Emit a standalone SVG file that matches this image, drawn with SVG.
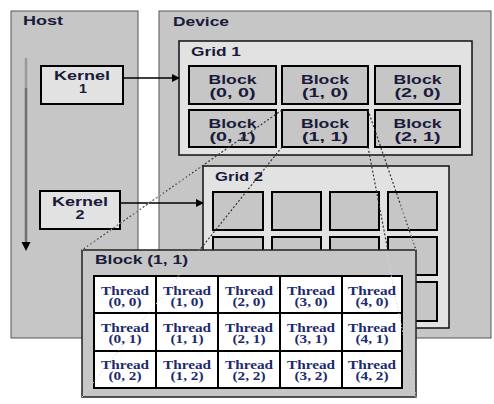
<svg xmlns="http://www.w3.org/2000/svg" width="494" height="404" viewBox="0 0 494 404">
<defs>
<marker id="ah" markerWidth="8" markerHeight="8" refX="7" refY="4" orient="auto" markerUnits="userSpaceOnUse">
<path d="M0,0 L8,4 L0,8 Z" fill="#000"/>
</marker>
<style>
.panel{fill:#c6c6c6;stroke:#555;stroke-width:1}
.grid{fill:#e2e2e2;stroke:#111;stroke-width:1.5}
.blk{fill:#c6c6c6;stroke:#000;stroke-width:2}
.kern{fill:#e2e2e2;stroke:#000;stroke-width:2}
.cell{fill:#c6c6c6;stroke:#000;stroke-width:2}
.t{font-family:"Liberation Sans",Arial,sans-serif;font-weight:bold;fill:#1a1a3a;font-size:12px}
.tc{text-anchor:middle}
.th{font-family:"Liberation Serif","Times New Roman",serif;font-weight:bold;fill:#1c2a6e;font-size:11.5px;text-anchor:middle}
.dash{stroke:#333;stroke-width:1.2;stroke-dasharray:2,2;fill:none}
.faint{stroke:#d8d8d8;stroke-width:1;stroke-dasharray:1.5,2;fill:none}
.arr{stroke:#000;stroke-width:1.5;fill:none}
.tl{stroke:#000;stroke-width:2}
</style>
</defs>
<rect width="494" height="404" fill="#fff"/>

<g id="host">
<rect class="panel" x="11" y="11" width="127" height="327"/>
<text class="t" x="23" y="25" textLength="40" lengthAdjust="spacingAndGlyphs">Host</text>
<line x1="26" y1="58" x2="26" y2="88" stroke="#9a9a9a" stroke-width="2.5"/>
<line x1="26" y1="88" x2="26" y2="243" stroke="#6e6e6e" stroke-width="2.5"/>
<path d="M21.5,242 L30.5,242 L26,251 Z" fill="#000"/>
</g>

<g id="device">
<rect class="panel" x="159" y="11" width="332" height="327"/>
<text class="t" x="173" y="26" textLength="56" lengthAdjust="spacingAndGlyphs">Device</text>
</g>

<g id="kernel1">
<rect class="kern" x="41" y="66" width="82" height="38"/>
<text class="t tc" x="82" y="80" textLength="56" lengthAdjust="spacingAndGlyphs">Kernel</text>
<text class="t tc" x="83" y="93" textLength="8" lengthAdjust="spacingAndGlyphs">1</text>
</g>

<g id="kernel2">
<rect class="kern" x="40" y="191" width="80" height="38"/>
<text class="t tc" x="80" y="206" textLength="56" lengthAdjust="spacingAndGlyphs">Kernel</text>
<text class="t tc" x="80" y="219" textLength="9" lengthAdjust="spacingAndGlyphs">2</text>
</g>

<g id="grid1">
<rect class="grid" x="179" y="41" width="293" height="114"/>
<text class="t" x="191" y="56" textLength="50" lengthAdjust="spacingAndGlyphs">Grid 1</text>
</g>
<g id="block00"><rect class="blk" x="189" y="66" width="87" height="38"/>
<text class="t tc" x="232.5" y="84" textLength="48" lengthAdjust="spacingAndGlyphs">Block</text>
<text class="t tc" x="232.5" y="97" textLength="46" lengthAdjust="spacingAndGlyphs">(0, 0)</text></g>
<g id="block10"><rect class="blk" x="282" y="66" width="86" height="38"/>
<text class="t tc" x="325" y="84" textLength="48" lengthAdjust="spacingAndGlyphs">Block</text>
<text class="t tc" x="325" y="97" textLength="46" lengthAdjust="spacingAndGlyphs">(1, 0)</text></g>
<g id="block20"><rect class="blk" x="375" y="66" width="85" height="38"/>
<text class="t tc" x="417.5" y="84" textLength="48" lengthAdjust="spacingAndGlyphs">Block</text>
<text class="t tc" x="417.5" y="97" textLength="46" lengthAdjust="spacingAndGlyphs">(2, 0)</text></g>
<g id="block01"><rect class="blk" x="189" y="110" width="87" height="37"/>
<text class="t tc" x="232.5" y="128" textLength="48" lengthAdjust="spacingAndGlyphs">Block</text>
<text class="t tc" x="232.5" y="141" textLength="46" lengthAdjust="spacingAndGlyphs">(0, 1)</text></g>
<g id="block11"><rect class="blk" x="282" y="110" width="86" height="37"/>
<text class="t tc" x="325" y="128" textLength="48" lengthAdjust="spacingAndGlyphs">Block</text>
<text class="t tc" x="325" y="141" textLength="46" lengthAdjust="spacingAndGlyphs">(1, 1)</text></g>
<g id="block21"><rect class="blk" x="375" y="110" width="85" height="37"/>
<text class="t tc" x="417.5" y="128" textLength="48" lengthAdjust="spacingAndGlyphs">Block</text>
<text class="t tc" x="417.5" y="141" textLength="46" lengthAdjust="spacingAndGlyphs">(2, 1)</text></g>

<g id="grid2">
<rect class="grid" x="203" y="166" width="246" height="162"/>
<text class="t" x="215" y="181" textLength="48" lengthAdjust="spacingAndGlyphs">Grid 2</text>
<rect class="cell" x="213" y="192" width="50" height="38"/>
<rect class="cell" x="272" y="192" width="49" height="38"/>
<rect class="cell" x="330" y="192" width="49" height="38"/>
<rect class="cell" x="388" y="192" width="49" height="38"/>
<rect class="cell" x="213" y="237" width="50" height="38"/>
<rect class="cell" x="272" y="237" width="49" height="38"/>
<rect class="cell" x="330" y="237" width="49" height="38"/>
<rect class="cell" x="388" y="237" width="49" height="38"/>
<rect class="cell" x="213" y="282" width="50" height="39"/>
<rect class="cell" x="272" y="282" width="49" height="39"/>
<rect class="cell" x="330" y="282" width="49" height="39"/>
<rect class="cell" x="388" y="282" width="49" height="39"/>
</g>

<g id="connectors">
<line class="arr" x1="123" y1="78" x2="179" y2="78" marker-end="url(#ah)"/>
<line class="arr" x1="120" y1="203" x2="203" y2="203" marker-end="url(#ah)"/>
<line class="dash" x1="282" y1="110" x2="82" y2="250"/>
<line class="dash" x1="282" y1="147" x2="82" y2="397"/>
<line class="dash" x1="368" y1="110" x2="416" y2="250"/>
<line class="dash" x1="368" y1="147" x2="416" y2="397"/>
</g>

<g id="block11-detail">
<rect x="82" y="250" width="334" height="147" fill="#c6c6c6" stroke="#222" stroke-width="1.5"/>
<text class="t" x="95" y="264" textLength="93" lengthAdjust="spacingAndGlyphs">Block (1, 1)</text>
<rect x="94" y="276" width="308" height="112" fill="#fff" stroke="#000" stroke-width="2"/>
<line class="tl" x1="156" y1="276" x2="156" y2="388" stroke="#777"/>
<line class="tl" x1="218" y1="276" x2="218" y2="388"/>
<line class="tl" x1="280" y1="276" x2="280" y2="388"/>
<line class="tl" x1="342" y1="276" x2="342" y2="388"/>
<line class="tl" x1="94" y1="313" x2="402" y2="313"/>
<line class="tl" x1="94" y1="351" x2="402" y2="351"/>
</g>

<g id="connectors-faint">
<line class="faint" x1="82" y1="250" x2="200" y2="167"/>
<line class="faint" x1="82" y1="397" x2="200" y2="249"/>
<line class="faint" x1="416" y1="250" x2="400" y2="203"/>
<line class="faint" x1="416" y1="397" x2="386" y2="250"/>
</g>

<g id="threads">
<text class="th" x="125" y="295" textLength="48" lengthAdjust="spacingAndGlyphs">Thread</text><text class="th" x="125" y="306" textLength="33" lengthAdjust="spacingAndGlyphs">(0, 0)</text>
<text class="th" x="187" y="295" textLength="48" lengthAdjust="spacingAndGlyphs">Thread</text><text class="th" x="187" y="306" textLength="33" lengthAdjust="spacingAndGlyphs">(1, 0)</text>
<text class="th" x="249" y="295" textLength="48" lengthAdjust="spacingAndGlyphs">Thread</text><text class="th" x="249" y="306" textLength="33" lengthAdjust="spacingAndGlyphs">(2, 0)</text>
<text class="th" x="311" y="295" textLength="48" lengthAdjust="spacingAndGlyphs">Thread</text><text class="th" x="311" y="306" textLength="33" lengthAdjust="spacingAndGlyphs">(3, 0)</text>
<text class="th" x="372" y="295" textLength="48" lengthAdjust="spacingAndGlyphs">Thread</text><text class="th" x="372" y="306" textLength="33" lengthAdjust="spacingAndGlyphs">(4, 0)</text>
<text class="th" x="125" y="332" textLength="48" lengthAdjust="spacingAndGlyphs">Thread</text><text class="th" x="125" y="343" textLength="33" lengthAdjust="spacingAndGlyphs">(0, 1)</text>
<text class="th" x="187" y="332" textLength="48" lengthAdjust="spacingAndGlyphs">Thread</text><text class="th" x="187" y="343" textLength="33" lengthAdjust="spacingAndGlyphs">(1, 1)</text>
<text class="th" x="249" y="332" textLength="48" lengthAdjust="spacingAndGlyphs">Thread</text><text class="th" x="249" y="343" textLength="33" lengthAdjust="spacingAndGlyphs">(2, 1)</text>
<text class="th" x="311" y="332" textLength="48" lengthAdjust="spacingAndGlyphs">Thread</text><text class="th" x="311" y="343" textLength="33" lengthAdjust="spacingAndGlyphs">(3, 1)</text>
<text class="th" x="372" y="332" textLength="48" lengthAdjust="spacingAndGlyphs">Thread</text><text class="th" x="372" y="343" textLength="33" lengthAdjust="spacingAndGlyphs">(4, 1)</text>
<text class="th" x="125" y="369" textLength="48" lengthAdjust="spacingAndGlyphs">Thread</text><text class="th" x="125" y="380" textLength="33" lengthAdjust="spacingAndGlyphs">(0, 2)</text>
<text class="th" x="187" y="369" textLength="48" lengthAdjust="spacingAndGlyphs">Thread</text><text class="th" x="187" y="380" textLength="33" lengthAdjust="spacingAndGlyphs">(1, 2)</text>
<text class="th" x="249" y="369" textLength="48" lengthAdjust="spacingAndGlyphs">Thread</text><text class="th" x="249" y="380" textLength="33" lengthAdjust="spacingAndGlyphs">(2, 2)</text>
<text class="th" x="311" y="369" textLength="48" lengthAdjust="spacingAndGlyphs">Thread</text><text class="th" x="311" y="380" textLength="33" lengthAdjust="spacingAndGlyphs">(3, 2)</text>
<text class="th" x="372" y="369" textLength="48" lengthAdjust="spacingAndGlyphs">Thread</text><text class="th" x="372" y="380" textLength="33" lengthAdjust="spacingAndGlyphs">(4, 2)</text>
</g>
</svg>
